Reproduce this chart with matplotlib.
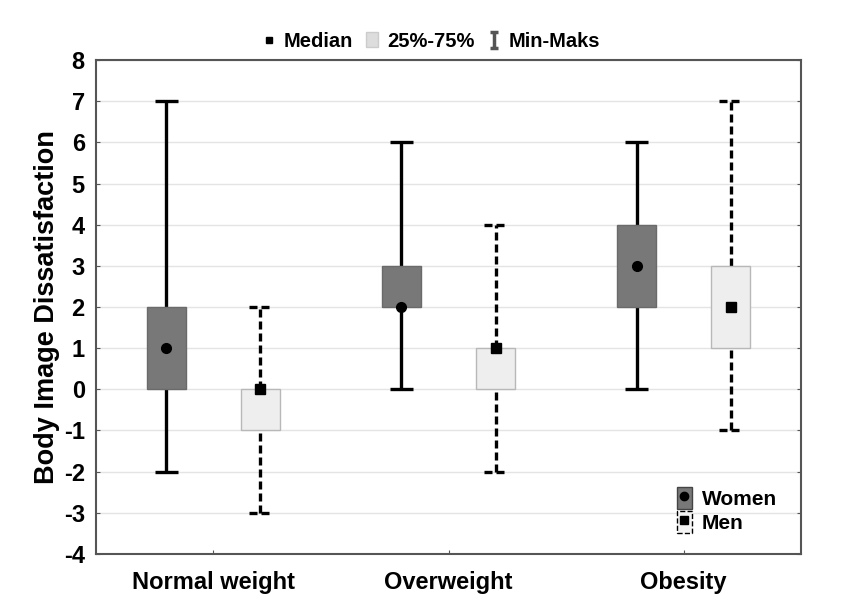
import matplotlib
matplotlib.use("Agg")
import matplotlib.pyplot as plt
from matplotlib.patches import Patch
from matplotlib.lines import Line2D
from matplotlib.path import Path
from matplotlib.legend_handler import HandlerTuple

plt.rcParams['font.family'] = ['Liberation Sans', 'DejaVu Sans']
plt.rcParams['font.weight'] = 'bold'
plt.rcParams['axes.unicode_minus'] = False

categories = ["Normal weight", "Overweight", "Obesity"]
women_min = [-2, 0, 0]
women_q1 = [0, 2, 2]
women_med = [1, 2, 3]
women_q3 = [2, 3, 4]
women_max = [7, 6, 6]
men_min = [-3, -2, -1]
men_q1 = [-1, 0, 1]
men_med = [0, 1, 2]
men_q3 = [0, 1, 3]
men_max = [2, 4, 7]

fig = plt.figure(figsize=(8.63, 6.13), dpi=100)
ax = fig.add_axes([0.1112, 0.0963, 0.817, 0.8058])

off = 0.2
bw = 0.165
capw = 0.048
lw = 2.4
dash = (0, (2.4, 1.2))

def draw(xs, mn, q1, md, q3, mx, face, edge, ls, marker):
    for x, a, b, c, d, e in zip(xs, mn, q1, md, q3, mx):
        ax.vlines(x, a, b, colors='black', linewidth=lw, linestyles=ls, zorder=2)
        ax.vlines(x, d, e, colors='black', linewidth=lw, linestyles=ls, zorder=2)
        ax.hlines([a, e], x - capw, x + capw, colors='black', linewidth=lw, linestyles=ls, zorder=2)
        ax.bar(x, d - b, bottom=b, width=bw, color=face, edgecolor=edge, linewidth=1.0, zorder=3)
        ax.plot(x, c, marker=marker, color='black', markersize=7, linestyle='none', zorder=4)

xw = [i - off for i in range(len(categories))]
xm = [i + off for i in range(len(categories))]
draw(xw, women_min, women_q1, women_med, women_q3, women_max, '#787878', '#6a6a6a', 'solid', 'o')
draw(xm, men_min, men_q1, men_med, men_q3, men_max, '#eeeeee', '#b8b8b8', dash, 's')

ax.set_xlim(-0.5, 2.5)
ax.set_ylim(-4, 8)
ax.set_yticks(range(-4, 9))
ax.set_xticks(range(len(categories)))
ax.set_xticklabels(categories, fontsize=17, fontweight='bold')
ax.tick_params(axis='y', labelsize=17, direction='in', length=3, right=True, color='#555555', pad=8)
ax.tick_params(axis='x', direction='in', length=3, color='#555555', pad=12)
for t in ax.get_yticklabels():
    t.set_fontweight('bold')
ax.grid(axis='y', color='#e4e4e4', linewidth=1.0, zorder=0)
ax.set_axisbelow(True)
for s in ax.spines.values():
    s.set_color('#555555')
    s.set_linewidth(1.5)
ax.set_ylabel("Body Image Dissatisfaction", fontsize=19.5, fontweight='bold', labelpad=3)

# top legend
ipath = Path([(-0.5, 1), (0.5, 1), (0, 1), (0, -1), (-0.5, -1), (0.5, -1)],
             [Path.MOVETO, Path.LINETO, Path.MOVETO, Path.LINETO, Path.MOVETO, Path.LINETO])
h1 = Line2D([], [], marker='s', color='black', markersize=5, linestyle='none')
h2 = Patch(facecolor='#dddddd', edgecolor='#cccccc')
h3 = Line2D([], [], marker=ipath, color='#555555', markersize=12, markeredgewidth=2.5, linestyle='none')
fig.legend([h1, h2, h3], ["Median", "25%-75%", "Min-Maks"], loc='center',
           bbox_to_anchor=(0.5, 0.933), ncol=3, frameon=False,
           handlelength=0.6, handletextpad=0.45, columnspacing=0.65,
           prop={'weight': 'bold', 'size': 14.5})

# group legend
hw = (Patch(facecolor='#787878', edgecolor='#444444'),
      Line2D([], [], marker='o', color='black', markersize=6, linestyle='none'))
hm = (Patch(facecolor='#f4f4f4', edgecolor='black', linestyle='--'),
      Line2D([], [], marker='s', color='black', markersize=6, linestyle='none'))
ax.legend([hw, hm], ["Women", "Men"], loc='lower right', bbox_to_anchor=(0.992, 0.004),
          frameon=False, handler_map={tuple: HandlerTuple(ndivide=1)},
          handlelength=0.75, handleheight=1.25, handletextpad=0.45, labelspacing=0.1,
          prop={'weight': 'bold', 'size': 15})

fig.savefig("out.png", dpi=100)
